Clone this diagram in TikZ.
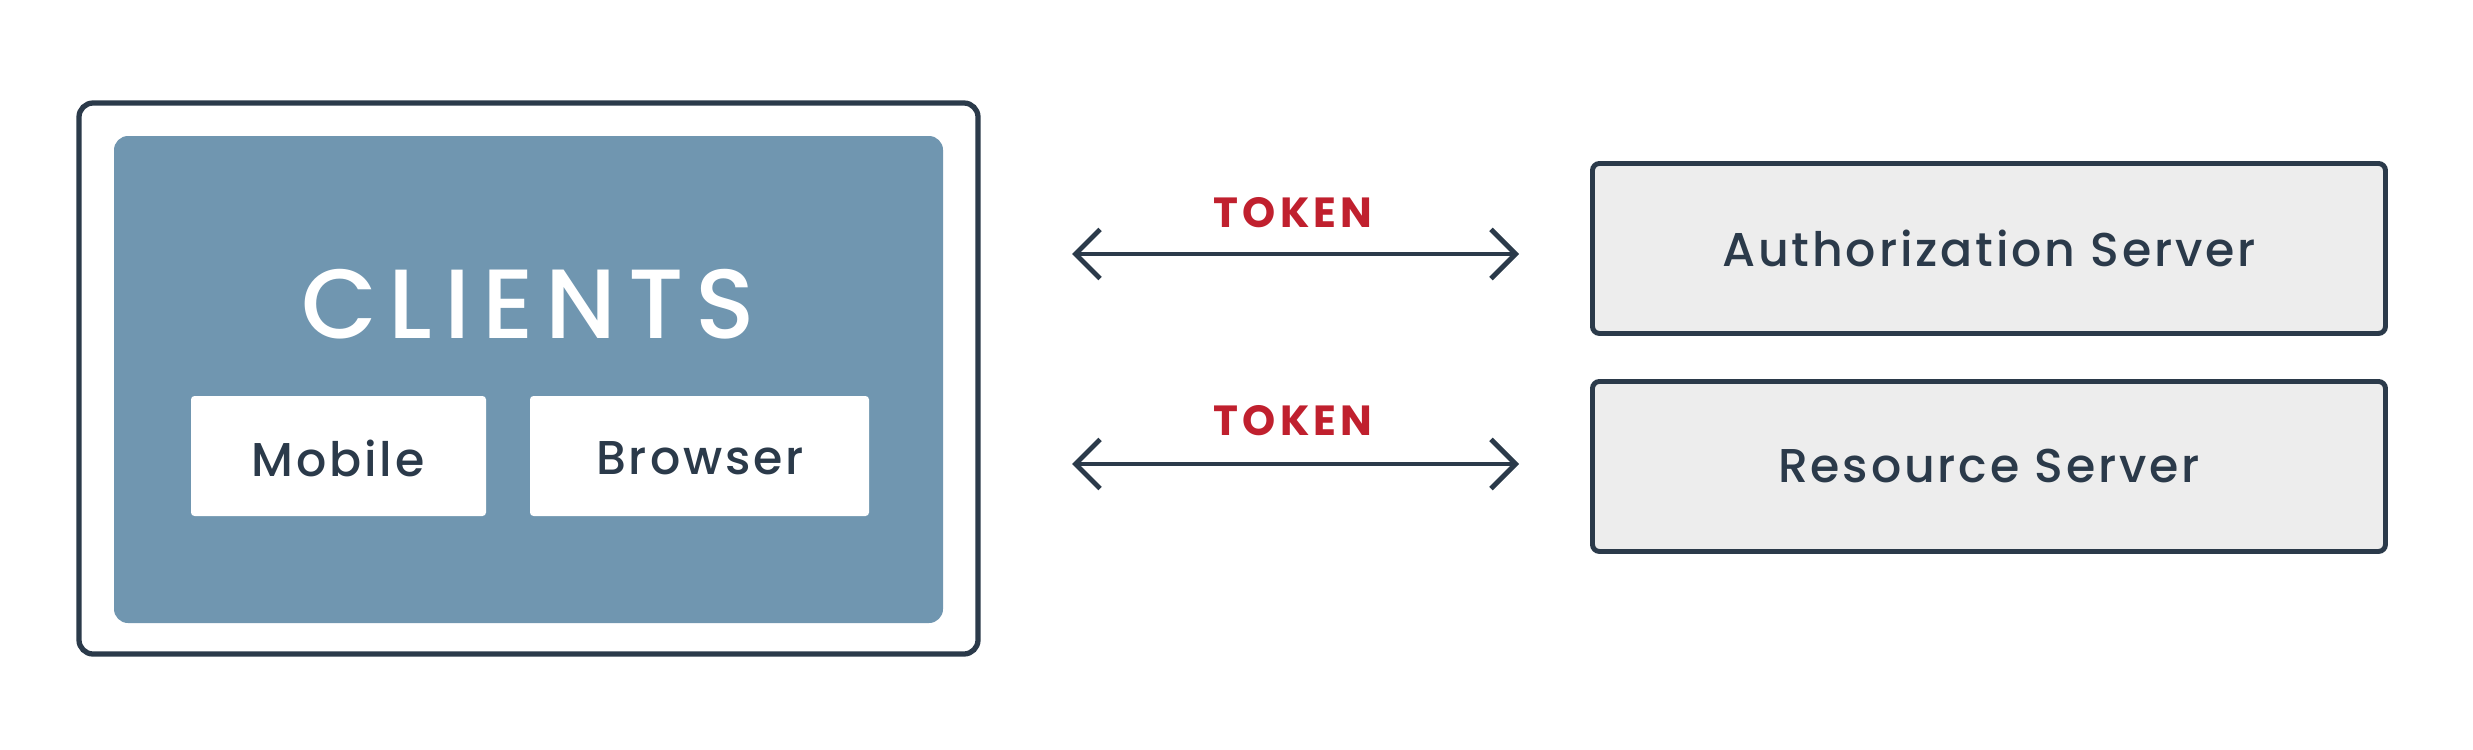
\documentclass[tikz,border=0pt]{standalone}
\usepackage{fontspec}
\setmainfont{Poppins}
\newfontfamily\medf{Poppins Medium}[LetterSpace=6]
\newfontfamily\bigf{Poppins Medium}[LetterSpace=12]
\newfontfamily\tokf{Poppins Bold}[LetterSpace=10]
\usetikzlibrary{arrows.meta}
\definecolor{navy}{HTML}{2B3A4A}
\definecolor{cblue}{HTML}{7096B0}
\definecolor{tred}{HTML}{C0202E}
\definecolor{lgrey}{HTML}{EDEDED}
\begin{document}
\begin{tikzpicture}[x=0.02cm,y=-0.02cm,
  sbox/.style={draw=navy,line width=2.8pt,rounded corners=4pt,fill=lgrey,font=\medf\fontsize{27}{30}\selectfont,text=navy},
  wbox/.style={fill=white,rounded corners=2pt},
  lbl/.style={font=\medf\fontsize{27}{30}\selectfont,text=navy},
  tok/.style={font=\tokf\fontsize{24}{26}\selectfont,text=tred},
  arr/.style={draw=navy,line width=2.8pt,{Straight Barb[length=14pt,width=28pt,line width=2.8pt]}-{Straight Barb[length=14pt,width=28pt,line width=2.8pt]}}]
\useasboundingbox (0,0) rectangle (2473,750);
\draw[navy,line width=3pt,rounded corners=8pt,fill=white] (79,103) rectangle (978,654);
\fill[cblue,rounded corners=8pt] (114,136) rectangle (943,623);
\node[text=white,font=\bigf\fontsize{56}{60}\selectfont] (cl) at (528,304) {CLIENTS};
\path[wbox] (191,396) rectangle (486,516);
\path[wbox] (530,396) rectangle (869,516);
\node[lbl] (m) at (338,458) {Mobile};
\node[lbl] (b) at (700,458) {Browser};
\node[sbox,minimum width=793*0.02cm,minimum height=170*0.02cm,anchor=north west] (auth) at (1590,161) {Authorization Server};
\node[sbox,minimum width=793*0.02cm,minimum height=170*0.02cm,anchor=north west] (res) at (1590,379) {Resource Server};
\coordinate (a1l) at (1072,254); \coordinate (a1r) at (1519,254);
\coordinate (a2l) at (1072,464); \coordinate (a2r) at (1519,464);
\draw[arr] (a1l) -- (a1r);
\draw[arr] (a2l) -- (a2r);
\node[tok] (t1) at (1293,213) {TOKEN};
\node[tok] (t2) at (1293,421) {TOKEN};
\end{tikzpicture}
\end{document}
